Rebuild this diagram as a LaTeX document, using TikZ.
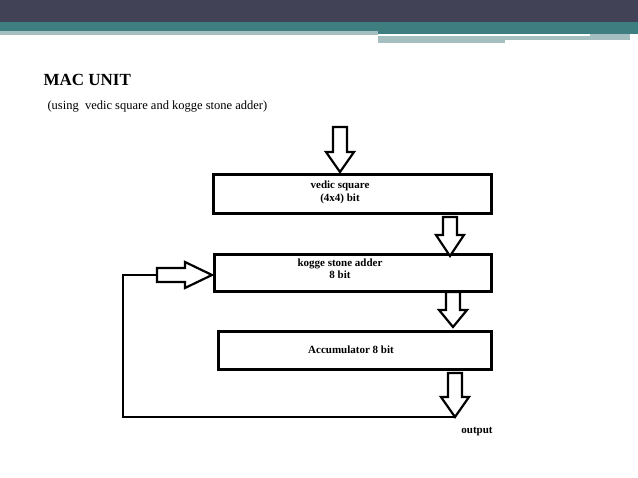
\documentclass[tikz,border=0pt]{standalone}
\usepackage{fontspec}
\setmainfont{Liberation Serif}
\begin{document}
\begin{tikzpicture}[x=1pt,y=-1pt,
  blk/.style={draw,line width=2.6pt,fill=white},
  fat/.style={draw,line width=2.2pt,fill=white,line join=miter},
  wire/.style={draw,line width=2.6pt}]
\useasboundingbox (0,0) rectangle (638,478);
\definecolor{dark}{HTML}{424256}
\definecolor{teal}{HTML}{3F7E80}
\definecolor{lt}{HTML}{A5BFC1}
\fill[dark] (0,0) rectangle (638,22);
\fill[teal] (0,22) rectangle (638,31);
\fill[lt] (0,31) rectangle (378,35);
\fill[teal] (378,31) rectangle (638,34);
\fill[lt] (378,34) rectangle (630,40);
\fill[white] (378,34) rectangle (590,36);
\fill[lt] (378,36) rectangle (505,43);
\node[anchor=west,font=\bfseries\fontsize{17}{20}\selectfont] (title) at (40,80) {MAC UNIT};
\node[anchor=west,font=\fontsize{12.5}{15}\selectfont] (sub) at (44,107) {(using\ \ vedic square and kogge stone adder)};
\node[blk,minimum width=278pt,minimum height=39pt,anchor=north west,inner sep=0pt] (b1) at (212,173) {};
\node[font=\bfseries\fontsize{11}{13}\selectfont,align=center] (t1) at (340,192) {vedic square\\(4x4) bit};
\node[blk,minimum width=277pt,minimum height=37pt,anchor=north west,inner sep=0pt] (b2) at (213,253) {};
\node[font=\bfseries\fontsize{11}{12}\selectfont,align=center] (t2) at (340,269) {kogge stone adder\\8 bit};
\node[blk,minimum width=273pt,minimum height=38pt,anchor=north west,inner sep=0pt] (b3) at (217,330) {};
\node[font=\bfseries\fontsize{11}{13}\selectfont] (t3) at (351,350) {Accumulator 8 bit};
\node[font=\bfseries\fontsize{11}{13}\selectfont] (out) at (477,432) {output};
% down arrows
\foreach \cx/\ya/\yb/\yt in {340/127/152/172, 450/217/235/256, 453/292/310/327, 455/373/397/417}{
  \draw[fat] (\cx-7,\ya) -- (\cx+7,\ya) -- (\cx+7,\yb) -- (\cx+14,\yb) -- (\cx,\yt) -- (\cx-14,\yb) -- (\cx-7,\yb) -- cycle;
}
\coordinate (c1) at (455,417);
\coordinate (c2) at (123,417);
\coordinate (c3) at (123,275);
\coordinate (c4) at (157,275);
\draw[wire] (c1) -- (c2) -- (c3) -- (c4);
\draw[fat] (157,268) -- (185,268) -- (185,262) -- (212,275) -- (185,288) -- (185,282) -- (157,282) -- cycle;
\end{tikzpicture}
\end{document}
